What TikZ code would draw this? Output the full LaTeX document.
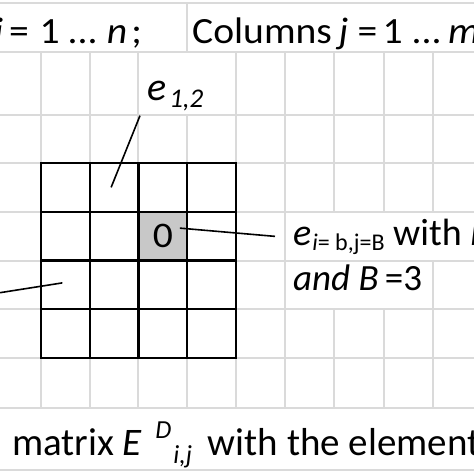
\documentclass[tikz,border=0pt]{standalone}
\usepackage{fontspec}
\setmainfont{Carlito}
\usetikzlibrary{arrows}

\definecolor{gridgray}{RGB}{218,218,218}
\definecolor{cellgray}{RGB}{200,200,200}

\begin{document}
\begin{tikzpicture}[x=1pt,y=-1pt,
    grid line/.style={draw=gridgray,line width=2pt},
    cell node/.style={rectangle,draw=black,line width=2.4pt,
      minimum size=48.75pt,inner sep=0pt,font=\fontsize{36}{40}\selectfont},
    label node/.style={inner sep=0pt,font=\fontsize{38}{42}\selectfont},
    head node/.style={inner sep=0pt,font=\fontsize{37}{42}\selectfont},
    lead line/.style={draw=black,line width=1.6pt}]

  \useasboundingbox (0,0) rectangle (474,474);
  \clip (0,0) rectangle (474,474);
  \fill[white] (0,0) rectangle (474,474);

  %% sheet grid
  \foreach \y in {3,52,115,163,212,261,309,358,408,470}
    \draw[grid line] (-10,\y) -- (484,\y);
  \draw[grid line] (187,3) -- (187,52);
  \foreach \x in {41,90,138,236,285,334,384,433}
    \draw[grid line] (\x,52) -- (\x,115);
  \foreach \x in {41,90,138,187,236,285,334,384,433}
    \draw[grid line] (\x,115) -- (\x,212);
  \foreach \x in {41,90,138,187,236,285}
    \draw[grid line] (\x,212) -- (\x,261);
  \foreach \x in {41,90,138,187,236,285,433}
    \draw[grid line] (\x,261) -- (\x,309);
  \foreach \x in {41,90,138,187,236,285,334,384,433}
    \draw[grid line] (\x,309) -- (\x,408);

  %% matrix cells
  \foreach \r in {1,...,4}
    \foreach \c in {1,...,4}
      \node[cell node] (c\r\c) at ({41+48.75*(\c-0.5)},{163+48.75*(\r-0.5)}) {};
  \node[cell node,fill=cellgray] (c23) at ({41+48.75*2.5},{163+48.75*1.5})
    {\scalebox{1.1}[1]{0}};

  %% texts
  \node[head node,anchor=base west] (rows) at (-6,43)
    {\scalebox{1.07}[1]{\textit{i}\hspace{5.5pt}=\hspace{10pt}1\hspace{7.5pt}...\hspace{8.5pt}\textit{n}\hspace{4pt};}};
  \node[head node,anchor=base west] (cols) at (192,43)
    {\scalebox{1.07}[1]{Columns\hspace{6.5pt}\textit{j}\hspace{8.5pt}=\hspace{5pt}1\hspace{8.5pt}...\hspace{6pt}\textit{m}}};
  \node[label node,anchor=base west,font=\fontsize{40}{44}\selectfont] (e12) at (147,100)
    {\textit{e}\hspace{3pt}\raisebox{-7pt}{\fontsize{27}{30}\selectfont\textit{1,2}}};
  \node[label node,anchor=base west] (ebB) at (293,245)
    {\textit{e}\hspace{1pt}\raisebox{-5pt}{\fontsize{24}{26}\selectfont\textit{i}= b,j=B} with \textit{b}};
  \node[label node,anchor=base west,font=\fontsize{37}{40}\selectfont] (andB) at (293,290)
    {\textit{and B\,}=3};
  \node[label node,anchor=base west,font=\fontsize{39}{42}\selectfont] (mat) at (12,455)
    {matrix \textit{E}\hspace{13pt}\raisebox{17pt}{\fontsize{26}{28}\selectfont\textit{D}}\hspace{2pt}\raisebox{-8pt}{\fontsize{26}{28}\selectfont\textit{i,j}}\hspace{7pt} with the elements};

  %% leaders
  \coordinate (offleft) at (-2,293);
  \draw[lead line] ([shift={(-7,5)}]e12.south west) -- ([xshift=-3pt]c12.center);
  \draw[lead line] ([shift={(17,-8)}]c23.center) -- ([xshift=-18pt]ebB.west);
  \draw[lead line] (offleft) -- ([shift={(-3,-2)}]c31.center);
\end{tikzpicture}
\end{document}
